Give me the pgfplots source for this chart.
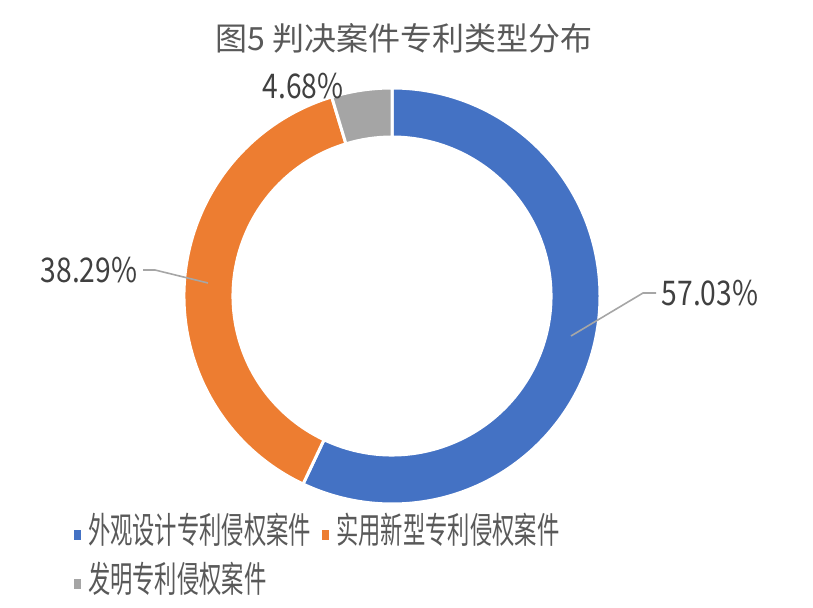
\documentclass[border=0pt]{standalone}
\usepackage{pgfplots}
\pgfplotsset{compat=1.18}
\usepackage{pgfplotstable}
\usepackage{fontspec}
\setmainfont{Noto Sans CJK SC}
\newfontfamily\cjk{Noto Sans CJK SC}
\newfontfamily\cjkleg[FakeStretch=0.62]{Noto Sans CJK SC}
\newfontfamily\cjknum[FakeStretch=0.83]{Noto Sans CJK SC}
\definecolor{cblue}{HTML}{4472C4}
\definecolor{corange}{HTML}{ED7D31}
\definecolor{cgray}{HTML}{A5A5A5}
\definecolor{ctitle}{HTML}{595959}
\definecolor{clabel}{HTML}{404040}
\definecolor{cline}{HTML}{A6A6A6}

\pgfplotstableread{
type share
design 57.03
utility 38.29
invention 4.68
}\sharedata
\pgfplotstablegetelem{0}{share}\of\sharedata \let\va\pgfplotsretval
\pgfplotstablegetelem{1}{share}\of\sharedata \let\vb\pgfplotsretval
\pgfplotstablegetelem{2}{share}\of\sharedata \let\vc\pgfplotsretval
\pgfmathsetmacro\aS{90}
\pgfmathsetmacro\aA{\aS-3.6*\va}
\pgfmathsetmacro\aB{\aA-3.6*\vb}
\pgfmathsetmacro\aC{\aB-3.6*\vc}
\def\Ro{104pt}
\def\Ri{79.5pt}
\def\Rw{24.5pt}

\begin{document}
\begin{tikzpicture}
\begin{axis}[
  scale only axis, width=406.5pt, height=304pt,
  xmin=0, xmax=813, ymin=0, ymax=608, y dir=reverse,
  hide axis, clip=false,
  legend columns=2,
  legend image code/.code={\path[#1, draw=none] (0pt,-2.5pt) rectangle (3.5pt,2.5pt);},
  legend style={draw=none, fill=none, at={(axis cs:74,521)}, anchor=north west,
    font=\cjkleg\fontsize{18pt}{21pt}\selectfont, text=ctitle,
    inner sep=0pt, outer sep=0pt, row sep=10.5pt,
    nodes={inner sep=0pt, text height=11pt, text depth=3pt},
    /tikz/every odd column/.append style={column sep=3.5pt},
    /tikz/every even column/.append style={column sep=5.5pt}},
  legend cell align=left,
]
\path (axis cs:0,0) (axis cs:813,608);
% donut sectors
\filldraw[fill=cblue, draw=white, line width=1.5pt] (axis cs:392,296) ++(\aS:\Ro) arc[start angle=\aS, end angle=\aA, radius=\Ro] -- ++(\aA+180:\Rw) arc[start angle=\aA, end angle=\aS, radius=\Ri] -- cycle;
\filldraw[fill=corange, draw=white, line width=1.5pt] (axis cs:392,296) ++(\aA:\Ro) arc[start angle=\aA, end angle=\aB, radius=\Ro] -- ++(\aB+180:\Rw) arc[start angle=\aB, end angle=\aA, radius=\Ri] -- cycle;
\filldraw[fill=cgray, draw=white, line width=1.5pt] (axis cs:392,296) ++(\aB:\Ro) arc[start angle=\aB, end angle=\aC, radius=\Ro] -- ++(\aC+180:\Rw) arc[start angle=\aC, end angle=\aB, radius=\Ri] -- cycle;
% leader lines
\draw[cline, line width=0.8pt] (axis cs:571,336) -- (axis cs:643,293) -- (axis cs:656,293);
\draw[cline, line width=0.8pt] (axis cs:143,270) -- (axis cs:155,270) -- (axis cs:208,283);
% data labels
\node[font=\cjknum\fontsize{17pt}{20pt}\selectfont, text=clabel] at (axis cs:710,293) {57.03\%};
\node[font=\cjknum\fontsize{17pt}{20pt}\selectfont, text=clabel] at (axis cs:89,270) {38.29\%};
\node[font=\cjknum\fontsize{17pt}{20pt}\selectfont, text=clabel] at (axis cs:303,86) {4.68\%};
% title
\node[font=\cjk\fontsize{16pt}{19pt}\selectfont, text=ctitle] at (axis cs:404,38) {图5 判决案件专利类型分布};
% legend
\addlegendimage{fill=cblue}
\addlegendentry{外观设计专利侵权案件}
\addlegendimage{fill=corange}
\addlegendentry{实用新型专利侵权案件}
\addlegendimage{fill=cgray}
\addlegendentry{发明专利侵权案件}
\end{axis}
\end{tikzpicture}
\end{document}
